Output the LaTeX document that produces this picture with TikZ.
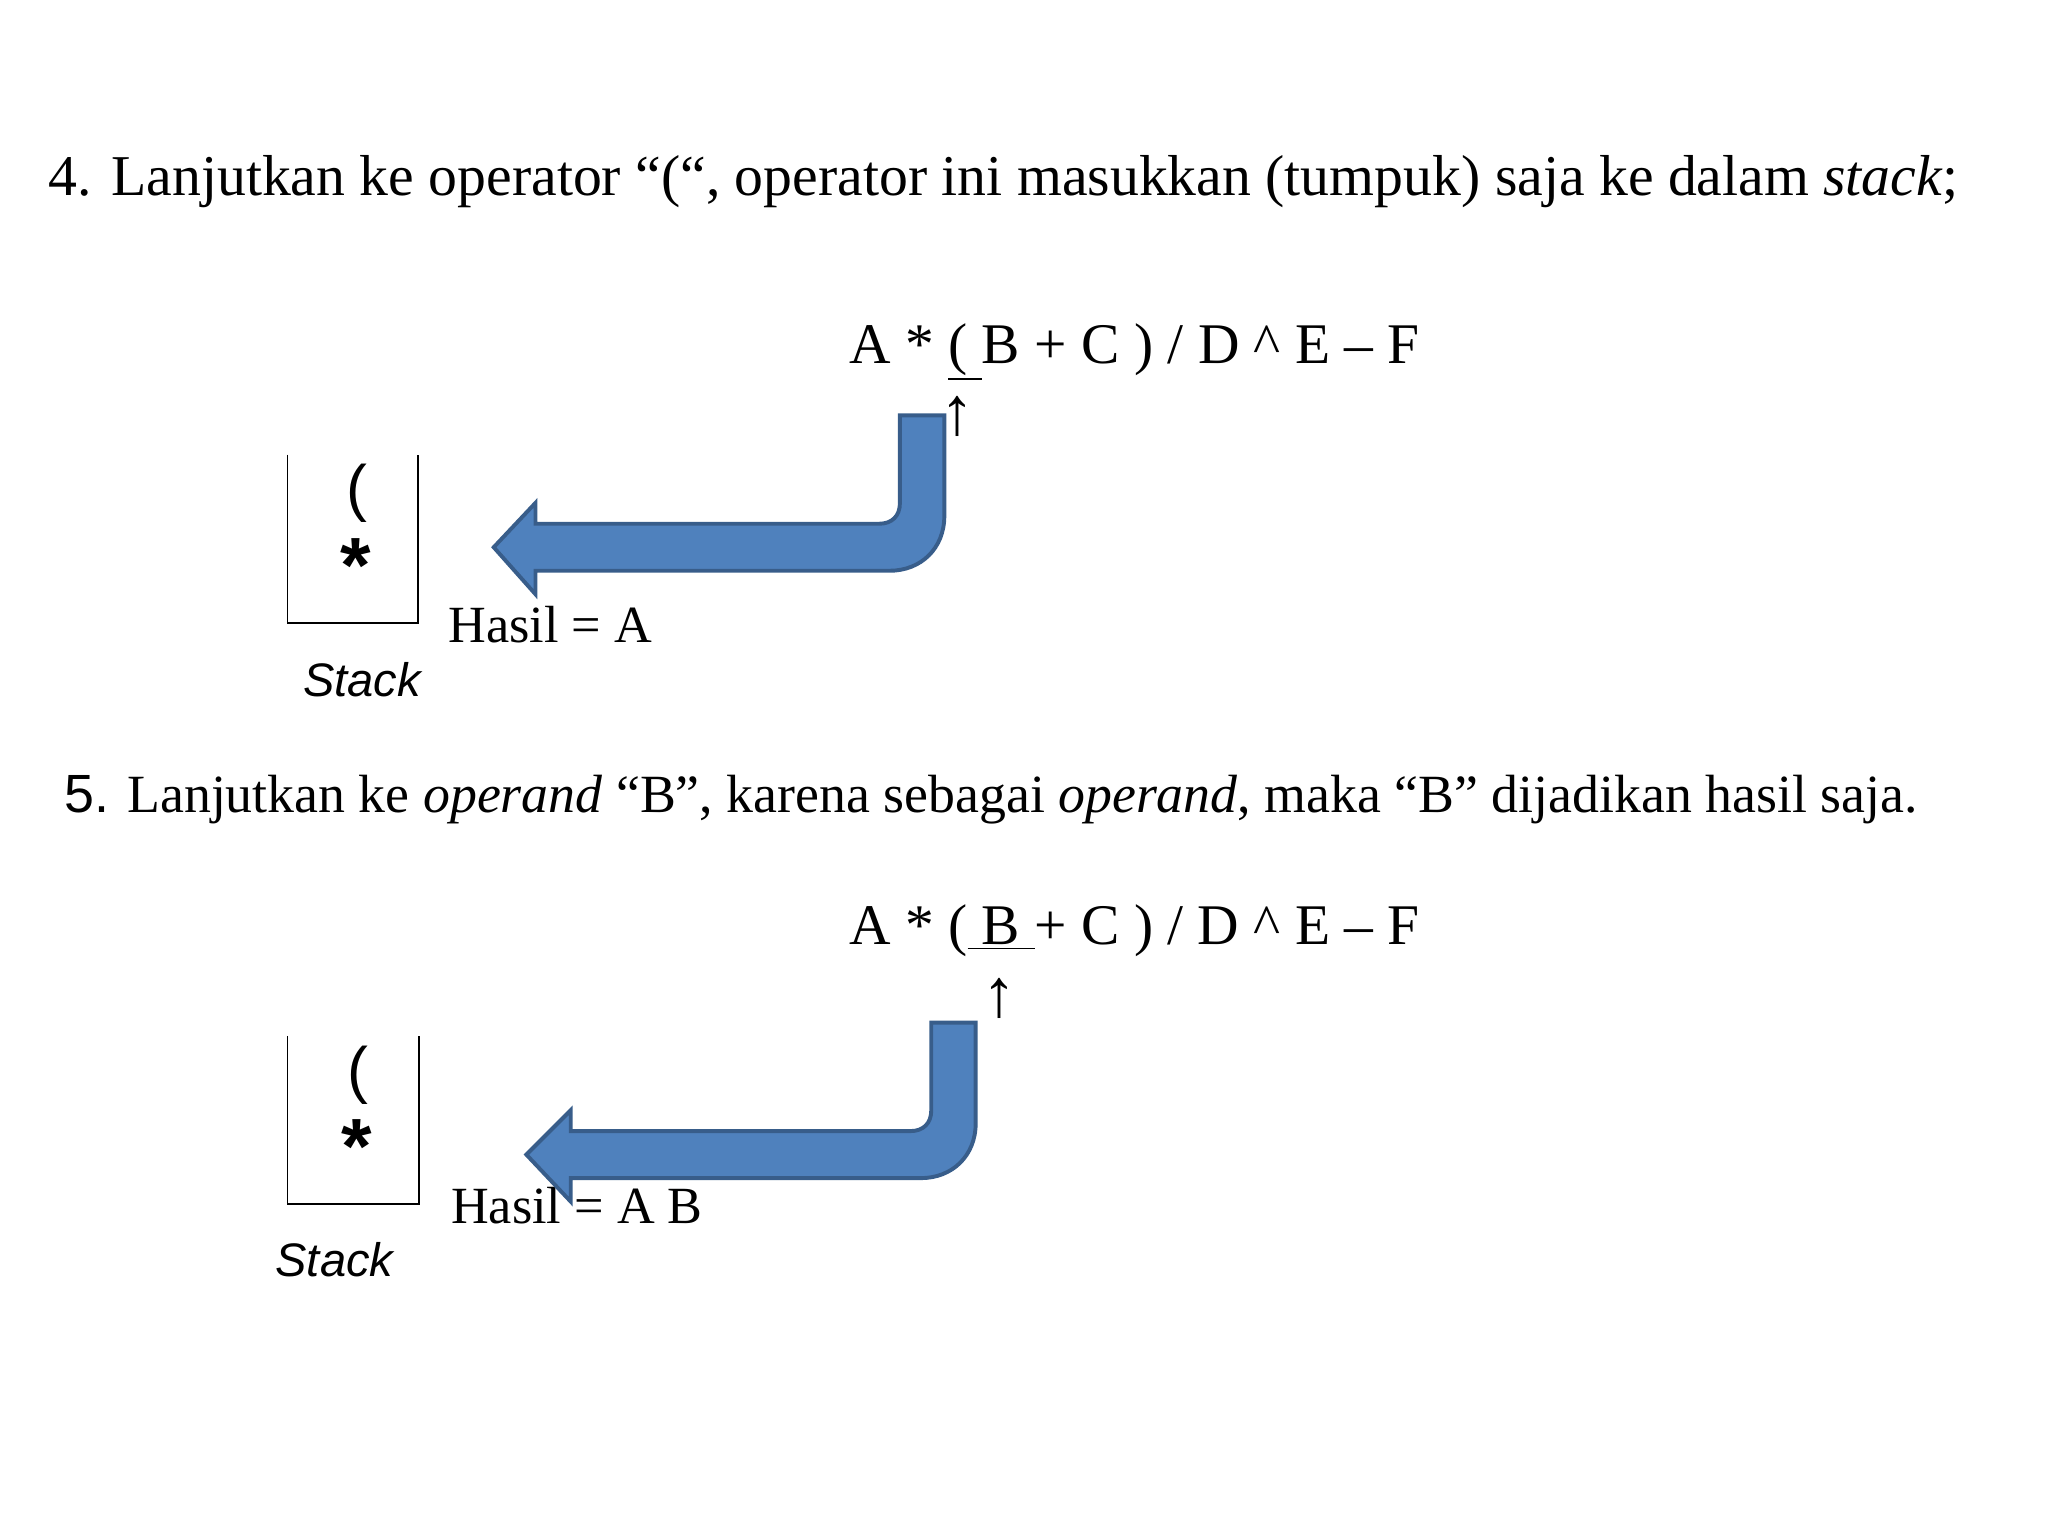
\documentclass[tikz,border=0pt]{standalone}
\usepackage{fontspec}
\setmainfont{Liberation Serif}
\setsansfont{Liberation Sans}
\begin{document}
\begin{tikzpicture}[x=0.5pt,y=-0.5pt,
  txt/.style={anchor=base west,inner sep=0pt,font=\fontsize{22.1}{26}\selectfont},
  expr/.style={anchor=base west,inner sep=0pt,font=\fontsize{22}{26}\selectfont},
  up/.style={anchor=base,inner sep=0pt,font=\fontsize{26}{30}\selectfont},
  res/.style={anchor=base west,inner sep=0pt,font=\fontsize{20}{24}\selectfont},
  stk/.style={anchor=base,inner sep=0pt,font=\sffamily\itshape\fontsize{18}{22}\selectfont},
  sym/.style={anchor=center,inner sep=0pt,font=\sffamily\fontsize{24}{28}\selectfont},
  star/.style={anchor=center,inner sep=0pt,font=\sffamily\bfseries\fontsize{30}{34}\selectfont},
  bigarrow/.style={fill={rgb,255:red,79;green,129;blue,189},draw={rgb,255:red,56;green,93;blue,138},line width=1.5pt},
  box/.style={line width=0.6pt}]
\useasboundingbox (0,0) rectangle (1568,1176);
% Section 4
\node[txt] (h1) at (37,150) {4. Lanjutkan ke operator “(“, operator ini masukkan (tumpuk) saja ke dalam \textit{stack};};
\node[expr] (e1) at (650,278) {A * \underline{(\ }B + C ) / D \^{} E – F};
\node[up] (u1) at (733,333) {↑};
\draw[box] (220,348) -- (220,477) -- (320,477) -- (320,348);
\node[sym] (p1) at (273,378) {(};
\node[star] (s1) at (272,433) {*};
\node[stk] (k1) at (277,533) {Stack};
\node[res] (r1) at (343,492) {Hasil = A};
\draw[bigarrow] (689,318) -- (723,318) -- (723,395) .. controls (723,420) and (705,437) .. (681,437)
  -- (410,437) -- (410,455) -- (378,419) -- (410,385) -- (410,401) -- (673,401)
  .. controls (683,401) and (689,395) .. (689,385) -- cycle;
% Section 5
\node[txt,font=\fontsize{20.6}{24}\selectfont] (h2) at (49,622) {{\sffamily 5.} Lanjutkan ke \textit{operand} “B”, karena sebagai \textit{operand}, maka “B” dijadikan hasil saja.};
\node[expr] (e2) at (650,723) {A * (\underline{\ B\ }+ C ) / D \^{} E – F};
\node[up] (u2) at (765,778) {↑};
\draw[box] (220,793) -- (220,922) -- (321,922) -- (321,793);
\node[sym] (p2) at (274,823) {(};
\node[star] (s2) at (273,878) {*};
\node[stk] (k2) at (256,977) {Stack};
\node[res] (r2) at (345,937) {Hasil = A B};
\draw[bigarrow] (713,783) -- (747,783) -- (747,860) .. controls (747,885) and (729,902) .. (705,902)
  -- (437,902) -- (437,920) -- (403,884) -- (437,850) -- (437,866) -- (697,866)
  .. controls (707,866) and (713,860) .. (713,850) -- cycle;
\end{tikzpicture}
\end{document}
